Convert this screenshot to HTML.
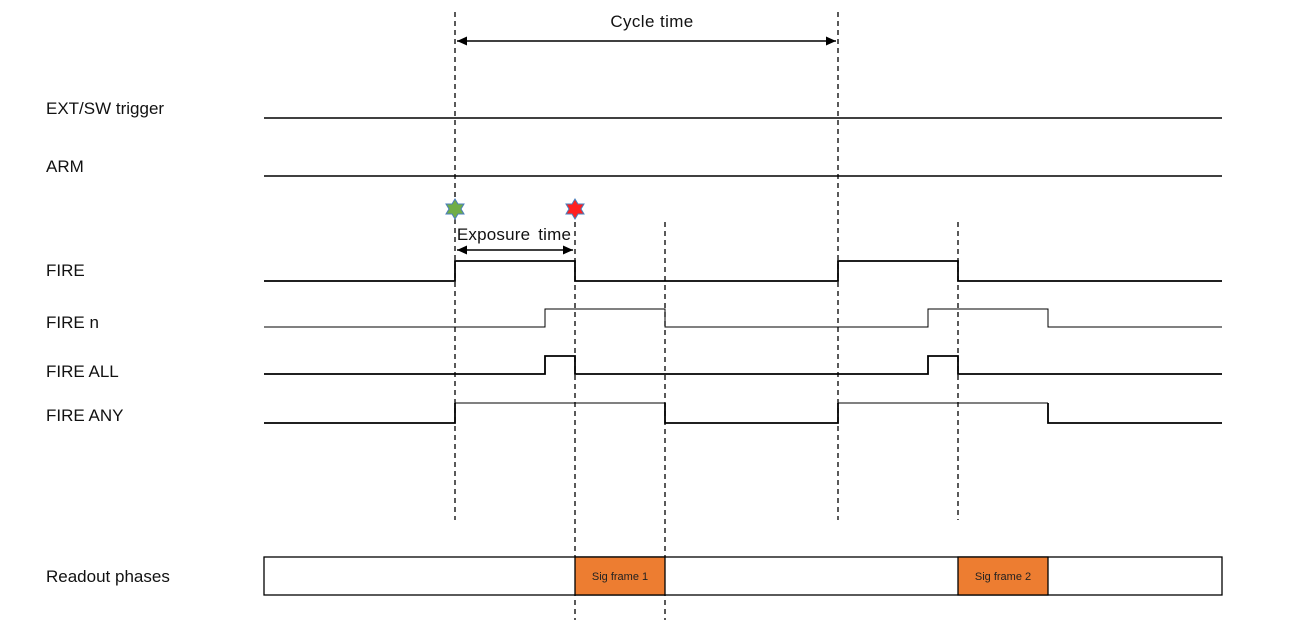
<!DOCTYPE html>
<html><head><meta charset="utf-8"><style>
html,body{margin:0;padding:0;background:#fff;}
svg{display:block;font-family:"Liberation Sans",sans-serif;}
</style></head><body>
<svg width="1305" height="625" viewBox="0 0 1305 625" xmlns="http://www.w3.org/2000/svg">
<defs>
<marker id="ah" viewBox="0 0 10 10" refX="10" refY="5" markerWidth="11" markerHeight="10" orient="auto-start-reverse" markerUnits="userSpaceOnUse"><path d="M0,0.5 L10,5 L0,9.5 z" fill="#000"/></marker>
</defs>
<g stroke="#000" stroke-width="1.3" stroke-dasharray="5,4" fill="none">
<line x1="455" y1="12" x2="455" y2="520"/>
<line x1="838" y1="12" x2="838" y2="520"/>
<line x1="575" y1="222" x2="575" y2="620"/>
<line x1="665" y1="222" x2="665" y2="620"/>
<line x1="958" y1="222" x2="958" y2="520"/>
</g>
<g font-size="17" fill="#111">
<text x="46" y="114">EXT/SW trigger</text>
<text x="46" y="172">ARM</text>
<text x="46" y="276">FIRE</text>
<text x="46" y="328">FIRE n</text>
<text x="46" y="377">FIRE ALL</text>
<text x="46" y="421">FIRE ANY</text>
<text x="46" y="582">Readout phases</text>
<text x="652" y="27" text-anchor="middle" letter-spacing="0.4">Cycle time</text>
<text x="514" y="240" text-anchor="middle" word-spacing="3" letter-spacing="0.2">Exposure time</text>
</g>
<line x1="457" y1="41" x2="836" y2="41" stroke="#000" stroke-width="1.5" marker-start="url(#ah)" marker-end="url(#ah)"/>
<line x1="457" y1="250" x2="573" y2="250" stroke="#000" stroke-width="1.5" marker-start="url(#ah)" marker-end="url(#ah)"/>
<g stroke="#000" fill="none">
<line x1="264" y1="118" x2="1222" y2="118" stroke-width="1.6"/>
<line x1="264" y1="176" x2="1222" y2="176" stroke-width="1.6"/>
<polyline stroke-width="1.8" points="264,281 455,281 455,261 575,261 575,281 838,281 838,261 958,261 958,281 1222,281"/>
<polyline stroke-width="1" points="264,327 545,327 545,309 665,309 665,327 928,327 928,309 1048,309 1048,327 1222,327"/>
<polyline stroke-width="1.8" points="264,374 545,374 545,356 575,356 575,374 928,374 928,356 958,356 958,374 1222,374"/>
<polyline stroke-width="1.8" points="264,423 455,423 455,403"/>
<line x1="455" y1="403" x2="665" y2="403" stroke-width="1"/>
<polyline stroke-width="1.8" points="665,403 665,423 838,423 838,403"/>
<line x1="838" y1="403" x2="1048" y2="403" stroke-width="1"/>
<polyline stroke-width="1.8" points="1048,403 1048,423 1222,423"/>
</g>
<rect x="264" y="557" width="958" height="38" fill="#fff" stroke="#000" stroke-width="1.3"/>
<rect x="575" y="557" width="90" height="38" fill="#ed7d31" stroke="#000" stroke-width="1.3"/>
<rect x="958" y="557" width="90" height="38" fill="#ed7d31" stroke="#000" stroke-width="1.3"/>
<g font-size="11" fill="#222" text-anchor="middle">
<text x="620" y="580">Sig frame 1</text>
<text x="1003" y="580">Sig frame 2</text>
</g>
<polygon points="455,199 458,204 464,204 461,209 464,214 458,214 455,219 452,214 446,214 449,209 446,204 452,204" fill="#70ad47" stroke="#4a7ebb" stroke-width="1"/>
<polygon points="575,199 578,204 584,204 581,209 584,214 578,214 575,219 572,214 566,214 569,209 566,204 572,204" fill="#ff2020" stroke="#4a7ebb" stroke-width="1"/>
</svg>
</body></html>
